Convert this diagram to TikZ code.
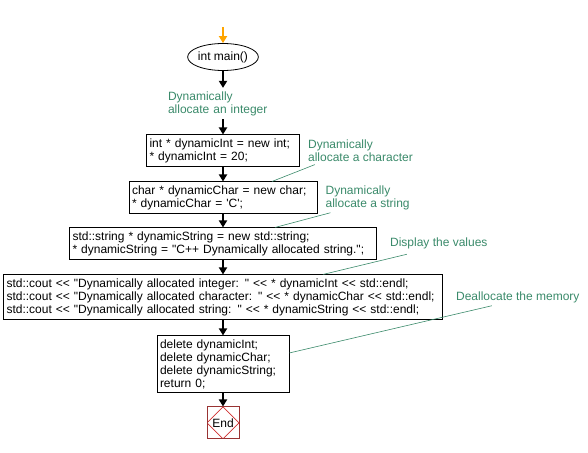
\documentclass[tikz,border=0pt]{standalone}
\usepackage{fontspec}
\setmainfont{Liberation Sans}
\newfontfamily\codefont{Liberation Sans}
\usepackage{xcolor}
\usetikzlibrary{shapes.geometric, arrows.meta, positioning}

\definecolor{notegreen}{HTML}{3A8A6A}
\definecolor{startorange}{HTML}{FFA500}
\definecolor{endframe}{HTML}{993333}
\definecolor{endred}{HTML}{D03030}

\tikzset{
  flow/.style={line width=2.5pt, -{Triangle[width=8pt,length=7pt]}},
  codebox/.style={rectangle, draw, line width=0.8pt, align=left, inner xsep=3pt, inner ysep=3.5pt,
    font=\codefont\fontsize{12}{13}\selectfont},
  note/.style={text=notegreen, align=left, inner sep=1pt, font=\codefont\fontsize{12}{13}\selectfont},
  noteline/.style={draw=notegreen, line width=0.6pt}
}

\begin{document}
\begin{tikzpicture}[x=1pt, y=-1pt, node distance=15pt]
\useasboundingbox (0,0) rectangle (588,452);

\coordinate (start) at (223,27);
\node (main) [ellipse, draw, line width=0.8pt, minimum width=67pt, minimum height=27pt, inner sep=0pt,
  font=\codefont\fontsize{12}{13}\selectfont] at (223,57) {int main()};
\node (lblint) [note, text width=110pt, inner ysep=3.5pt, below=17pt of main] {Dynamically\\allocate an integer};
\node (box1) [codebox, text width=147pt, below=15pt of lblint] {int * dynamicInt = new int;\\{}* dynamicInt = 20;};
\node (box2) [codebox, text width=182pt, below=15pt of box1] {char * dynamicChar = new char;\\{}* dynamicChar = 'C';};
\node (box3) [codebox, text width=301pt, below=14pt of box2] {std::string * dynamicString = new std::string;\\{}* dynamicString = "C++ Dynamically allocated string.";};
\node (box4) [codebox, text width=433pt, below=15pt of box3] {std::cout << "Dynamically allocated integer: " << * dynamicInt << std::endl;\\std::cout << "Dynamically allocated character: " << * dynamicChar << std::endl;\\std::cout << "Dynamically allocated string: " << * dynamicString << std::endl;};
\node (box5) [codebox, text width=126pt, below=16pt of box4] {delete dynamicInt;\\delete dynamicChar;\\delete dynamicString;\\return 0;};
\node (end) [rectangle, draw=endframe, line width=0.8pt, minimum size=32pt, inner sep=0pt, below=14pt of box5,
  font=\codefont\fontsize{12}{13}\selectfont,
  path picture={\draw[endred, line width=0.6pt] (path picture bounding box.north) -- (path picture bounding box.east) -- (path picture bounding box.south) -- (path picture bounding box.west) -- cycle;}] {End};

% comments
\node (cmtchar) [note, anchor=west, right=7pt of box1] {Dynamically\\allocate a character};
\node (cmtstr) [note, anchor=west, right=7pt of box2] {Dynamically\\allocate a string};
\node (cmtshow) [note, anchor=west, right=12pt of box3] {Display the values};
\node (cmtfree) [note, anchor=west, right=12pt of box4] {Deallocate the memory};

% flow
\draw [flow, startorange] (start) -- (main);
\draw [flow] (main) -- (lblint);
\draw [flow] (lblint) -- (box1);
\draw [flow] (box1) -- (box2);
\draw [flow] (box2) -- (box3);
\draw [flow] (box3) -- (box4);
\draw [flow] (box4) -- (box5);
\draw [flow] (box5) -- (end);

% comment links
\draw [noteline] ([xshift=8pt, yshift=-2pt]cmtchar.south west) -- ([xshift=49pt]box2.north);
\draw [noteline] ([xshift=6pt, yshift=-2pt]cmtstr.south west) -- ([xshift=52pt]box3.north);
\draw [noteline] ([xshift=18pt, yshift=-4pt]cmtshow.south west) -- ([xshift=100pt]box4.north);
\draw [noteline] ([xshift=37pt, yshift=-2pt]cmtfree.south west) -- ([yshift=11pt]box5.east);
\end{tikzpicture}
\end{document}
